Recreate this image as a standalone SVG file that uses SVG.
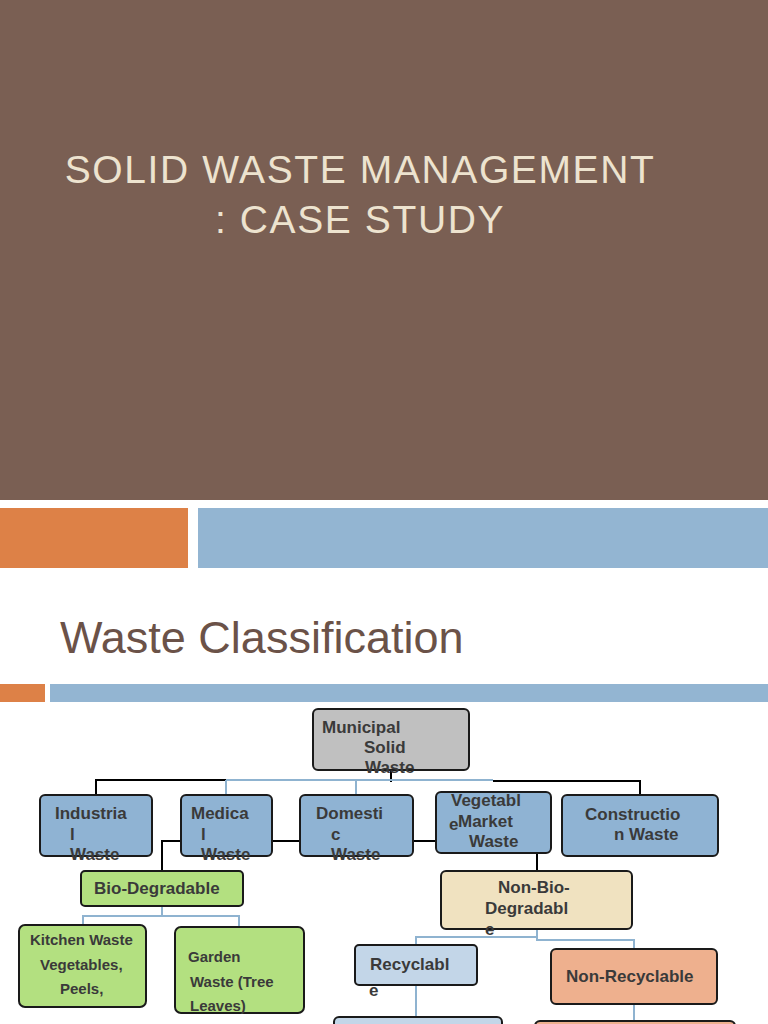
<svg xmlns="http://www.w3.org/2000/svg" width="768" height="1024" viewBox="0 0 768 1024">
<style>
.b{stroke:#1a1a1a;stroke-width:2}
text{font-family:"Liberation Sans",sans-serif;font-weight:bold;fill:#3a3a3a;font-size:17px}
.k{stroke:#000;stroke-width:2;fill:none}
.l{stroke:#8fb3d0;stroke-width:2;fill:none}
.t{font-weight:normal;font-size:39px;fill:#ede3cf;letter-spacing:1.6px}
</style>
<rect x="0" y="0" width="768" height="500" fill="#7a5f53"/>
<text class="t" x="360" y="183" text-anchor="middle">SOLID WASTE  MANAGEMENT</text>
<text class="t" x="360" y="233" text-anchor="middle">: CASE STUDY</text>
<rect x="0" y="508" width="188" height="60" fill="#dd8147"/>
<rect x="198" y="508" width="570" height="60" fill="#93b5d2"/>
<text x="60" y="653" style="font-weight:normal;font-size:45px;fill:#6b5248">Waste Classification</text>
<rect x="0" y="684" width="45" height="18" fill="#dd8147"/>
<rect x="50" y="684" width="718" height="18" fill="#93b5d2"/>
<g id="connectors">
<path class="k" d="M391 770V782M96 795V780H226"/>
<path class="l" d="M226 780H493M226 780V795M356 780V795"/>
<path class="k" d="M493 781H640V795"/>
<path class="k" d="M162 871V841H537V871"/>
<path class="l" d="M162 906V916H83V925M162 916H239V933"/>
<path class="l" d="M537 929V937H416V945M537 937V940H634V949M416 985V1017M634 1004V1020"/>
</g>
<g id="municipal"><rect class="b" x="313" y="709" width="156" height="61" rx="5" fill="#c0c0c0"/><text x="322" y="733">Municipal</text><text x="364" y="753">Solid</text><text x="365" y="773">Waste</text></g>
<g id="industrial"><rect class="b" x="40" y="795" width="112" height="61" rx="5" fill="#8fb3d3"/><text x="55" y="819">Industria</text><text x="70" y="840">l</text><text x="70" y="860">Waste</text></g>
<g id="medical"><rect class="b" x="181" y="795" width="91" height="61" rx="5" fill="#8fb3d3"/><text x="191" y="819">Medica</text><text x="201" y="840">l</text><text x="201" y="860">Waste</text></g>
<g id="domestic"><rect class="b" x="300" y="795" width="113" height="61" rx="5" fill="#8fb3d3"/><text x="316" y="819">Domesti</text><text x="331" y="840">c</text><text x="331" y="860">Waste</text></g>
<g id="vegetable"><rect class="b" x="436" y="792" width="115" height="61" rx="5" fill="#8fb3d3"/><text x="451" y="806">Vegetabl</text><text x="449" y="830">e</text><text x="458" y="827">Market</text><text x="469" y="847">Waste</text></g>
<g id="construction"><rect class="b" x="562" y="795" width="156" height="61" rx="5" fill="#8fb3d3"/><text x="585" y="820">Constructio</text><text x="614" y="840">n  Waste</text></g>
<g id="bio"><rect class="b" x="81" y="871" width="162" height="35" rx="4" fill="#b3e080"/><text x="94" y="894">Bio-Degradable</text></g>
<g id="nonbio"><rect class="b" x="441" y="871" width="191" height="58" rx="5" fill="#f0e2c0"/><text x="498" y="893">Non-Bio-</text><text x="485" y="914">Degradabl</text><text x="485" y="935">e</text></g>
<g id="kitchen"><rect class="b" x="19" y="925" width="127" height="82" rx="6" fill="#b3e080"/><text x="30" y="945" style="font-size:15px">Kitchen Waste</text><text x="40" y="970" style="font-size:15px">Vegetables,</text><text x="60" y="994" style="font-size:15px">Peels,</text></g>
<g id="garden"><rect class="b" x="175" y="927" width="129" height="86" rx="6" fill="#b3e080"/><text x="188" y="962" style="font-size:15px">Garden</text><text x="190" y="987" style="font-size:15px">Waste  (Tree</text><text x="190" y="1011" style="font-size:15px">Leaves)</text></g>
<g id="recyclable"><rect class="b" x="355" y="945" width="122" height="40" rx="4" fill="#c3d6e8"/><text x="370" y="970">Recyclabl</text><text x="369" y="996">e</text></g>
<g id="nonrecyclable"><rect class="b" x="551" y="949" width="166" height="55" rx="5" fill="#eeb08e"/><text x="566" y="982">Non-Recyclable</text></g>
<g id="bottom1"><rect class="b" x="334" y="1017" width="168" height="20" rx="5" fill="#c3d6e8"/></g>
<g id="bottom2"><rect class="b" x="535" y="1021" width="200" height="20" rx="5" fill="#eeb08e"/></g>
</svg>
